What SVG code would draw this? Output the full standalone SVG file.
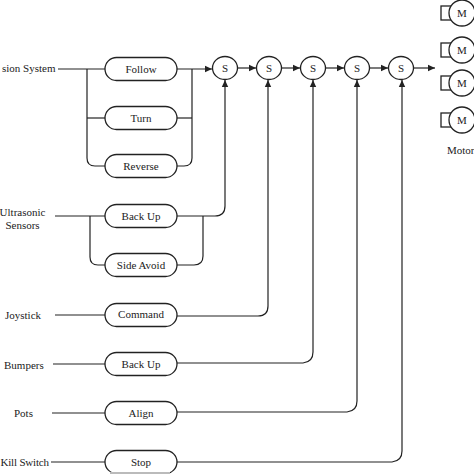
<svg xmlns="http://www.w3.org/2000/svg" width="474" height="474" viewBox="0 0 474 474">
<style>
.lbl{font-family:"Liberation Serif","Times New Roman",serif;font-size:11px;fill:#222}
.pt{font-family:"Liberation Serif","Times New Roman",serif;font-size:11px;fill:#222;text-anchor:middle}
.pill{fill:#fff;stroke:#222;stroke-width:1.3}
.ln{fill:none;stroke:#222;stroke-width:1.2}
.arr{fill:none;stroke:#222;stroke-width:1.2;marker-end:url(#ah)}
.s{fill:#fff;stroke:#222;stroke-width:1.3}
</style>
<defs>
<marker id="ah" markerWidth="8" markerHeight="8" refX="7" refY="4" orient="auto" markerUnits="userSpaceOnUse">
<path d="M0,0.8 L7,4 L0,7.2 Z" fill="#222"/>
</marker>
</defs>
<rect width="474" height="474" fill="#fff"/>

<g id="labels">
<text class="lbl" x="2" y="72">sion System</text>
<text class="lbl" x="22.5" y="216" text-anchor="middle">Ultrasonic</text>
<text class="lbl" x="22.5" y="229" text-anchor="middle">Sensors</text>
<text class="lbl" x="5" y="319">Joystick</text>
<text class="lbl" x="4" y="369">Bumpers</text>
<text class="lbl" x="14" y="417">Pots</text>
<text class="lbl" x="0.5" y="466" textLength="48.5">Kill Switch</text>
</g>

<g id="connectors">
<path class="ln" d="M58,69 H105"/>
<path class="ln" d="M87,69 V158 Q87,166 95,166 H105"/>
<path class="ln" d="M87,118 H105"/>
<path class="arr" d="M177,69 H212"/>
<path class="ln" d="M177,166 H184 Q192,166 192,158 V69"/>
<path class="ln" d="M177,118 H192"/>

<path class="ln" d="M55,216 H105"/>
<path class="ln" d="M90,216 V257 Q90,265 98,265 H105"/>
<path class="arr" d="M177,216 H215 Q225,216 225,206 V80"/>
<path class="ln" d="M177,265 H194 Q203,265 203,256 V216"/>

<path class="ln" d="M55,315 H105"/>
<path class="arr" d="M177,316 H258 Q268,316 268,306 V80"/>

<path class="ln" d="M53,364 H105"/>
<path class="arr" d="M177,363 H303 Q313,362 313,352 V80"/>

<path class="ln" d="M52,413 H105"/>
<path class="arr" d="M177,412 H347 Q357,411 357,401 V80"/>

<path class="ln" d="M51,462 H105"/>
<path class="arr" d="M177,462 H392 Q402,461 402,451 V80"/>

<path class="arr" d="M237,68 H256"/>
<path class="arr" d="M281,68 H300"/>
<path class="arr" d="M325,68 H344"/>
<path class="arr" d="M369,68 H388"/>
<path class="arr" d="M413,68 H435"/>
</g>

<g id="follow"><rect class="pill" x="105" y="57.5" width="72" height="23" rx="11.5"/><text class="pt" x="141" y="73">Follow</text></g>
<g id="turn"><rect class="pill" x="105" y="106.5" width="72" height="23" rx="11.5"/><text class="pt" x="141" y="122">Turn</text></g>
<g id="reverse"><rect class="pill" x="105" y="154.5" width="72" height="23" rx="11.5"/><text class="pt" x="141" y="170">Reverse</text></g>
<g id="backup1"><rect class="pill" x="105" y="204.5" width="72" height="23" rx="11.5"/><text class="pt" x="141" y="220">Back Up</text></g>
<g id="sideavoid"><rect class="pill" x="105" y="253.5" width="72" height="23" rx="11.5"/><text class="pt" x="141" y="269">Side Avoid</text></g>
<g id="command"><rect class="pill" x="105" y="303.5" width="72" height="23" rx="11.5"/><text class="pt" x="141" y="318">Command</text></g>
<g id="backup2"><rect class="pill" x="105" y="352.5" width="72" height="23" rx="11.5"/><text class="pt" x="141" y="368">Back Up</text></g>
<g id="align"><rect class="pill" x="105" y="401.5" width="72" height="23" rx="11.5"/><text class="pt" x="141" y="417">Align</text></g>
<g id="stop"><rect class="pill" x="105" y="450.5" width="72" height="23" rx="11.5"/><text class="pt" x="141" y="466">Stop</text></g>
<rect x="110" y="472" width="60" height="2" fill="#bbb"/>

<g id="s1"><ellipse class="s" cx="225" cy="68" rx="12.5" ry="11.5"/><text class="pt" x="225" y="72">S</text></g>
<g id="s2"><ellipse class="s" cx="269" cy="68" rx="12.5" ry="11.5"/><text class="pt" x="269" y="72">S</text></g>
<g id="s3"><ellipse class="s" cx="313" cy="68" rx="12.5" ry="11.5"/><text class="pt" x="313" y="72">S</text></g>
<g id="s4"><ellipse class="s" cx="357" cy="68" rx="12.5" ry="11.5"/><text class="pt" x="357" y="72">S</text></g>
<g id="s5"><ellipse class="s" cx="401" cy="68" rx="12.5" ry="11.5"/><text class="pt" x="401" y="72">S</text></g>

<g id="motors">
<rect class="s" x="441" y="6" width="10" height="14"/><circle class="s" cx="462" cy="13" r="13"/><text class="pt" x="462" y="17">M</text>
<rect class="s" x="441" y="43" width="10" height="14"/><circle class="s" cx="462" cy="50" r="13"/><text class="pt" x="462" y="54">M</text>
<rect class="s" x="441" y="76" width="10" height="14"/><circle class="s" cx="462" cy="83" r="13"/><text class="pt" x="462" y="87">M</text>
<rect class="s" x="441" y="113" width="10" height="14"/><circle class="s" cx="462" cy="120" r="13"/><text class="pt" x="462" y="124">M</text>
<text class="lbl" x="447" y="154">Motor</text>
</g>
</svg>
